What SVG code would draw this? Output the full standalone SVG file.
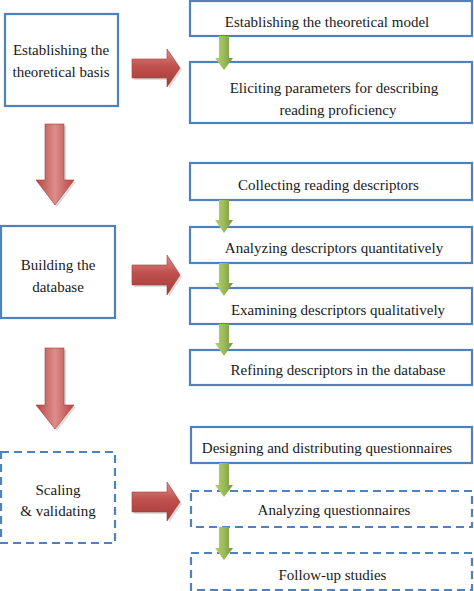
<svg xmlns="http://www.w3.org/2000/svg" width="474" height="591" viewBox="0 0 474 591">
<defs>
<linearGradient id="redH" x1="0" y1="0" x2="0" y2="1">
<stop offset="0" stop-color="#dc8e8b"/>
<stop offset="0.45" stop-color="#c0504d"/>
<stop offset="1" stop-color="#a33c3a"/>
</linearGradient>
<linearGradient id="redV" x1="0" y1="0" x2="1" y2="0">
<stop offset="0" stop-color="#b84542"/>
<stop offset="0.5" stop-color="#dc8e8b"/>
<stop offset="1" stop-color="#b84542"/>
</linearGradient>
<linearGradient id="green" x1="0" y1="0" x2="1" y2="0">
<stop offset="0" stop-color="#b5d06a"/>
<stop offset="0.5" stop-color="#9bbb59"/>
<stop offset="1" stop-color="#76923c"/>
</linearGradient>
<style>
.box{fill:#fff;stroke:#4f81bd;stroke-width:2.2}
.dash{stroke-dasharray:8 5}
text{font-family:"Liberation Serif","Times New Roman",serif;font-size:15px;fill:#1a1a1a;text-anchor:middle}
.red{stroke:#a33c3a;stroke-width:0.6}
.shadow{fill:#b9b9b9;opacity:0.5}
.grn{fill:url(#green)}
</style>
</defs>
<g id="n-basis">
<rect class="box" x="5" y="14" width="113" height="92"/>
<text x="61" y="55">Establishing the</text>
<text x="61" y="77">theoretical basis</text>
</g>
<g id="n-database">
<rect class="box" x="1" y="226" width="114" height="92"/>
<text x="58" y="270">Building the</text>
<text x="58" y="292">database</text>
</g>
<g id="n-scaling">
<rect class="box dash" x="1" y="452" width="114" height="91"/>
<text x="58" y="495">Scaling</text>
<text x="58" y="516">&amp; validating</text>
</g>
<g id="n-model">
<rect class="box" x="190" y="1" width="282" height="35"/>
<text x="327" y="27">Establishing the theoretical model</text>
</g>
<g id="n-eliciting">
<rect class="box" x="190" y="62" width="282" height="61"/>
<text x="334" y="93">Eliciting parameters for describing</text>
<text x="338" y="115">reading proficiency</text>
</g>
<g id="n-collecting">
<rect class="box" x="190" y="163" width="282" height="37"/>
<text x="328.5" y="190">Collecting reading descriptors</text>
</g>
<g id="n-analyzing-desc">
<rect class="box" x="190" y="227" width="282" height="36"/>
<text x="334" y="253">Analyzing descriptors quantitatively</text>
</g>
<g id="n-examining">
<rect class="box" x="190" y="288" width="282" height="36"/>
<text x="338" y="315">Examining descriptors qualitatively</text>
</g>
<g id="n-refining">
<rect class="box" x="190" y="350" width="282" height="35"/>
<text x="338" y="375">Refining descriptors in the database</text>
</g>
<g id="n-designing">
<rect class="box" x="191" y="427" width="281" height="36"/>
<text x="327" y="453">Designing and distributing questionnaires</text>
</g>
<g id="n-analyzing-q">
<rect class="box dash" x="191" y="491" width="281" height="36"/>
<text x="334" y="515">Analyzing questionnaires</text>
</g>
<g id="n-followup">
<rect class="box dash" x="191" y="553" width="281" height="37"/>
<text x="332.5" y="580">Follow-up studies</text>
</g>
<g id="connectors">
<polygon class="shadow" points="134,61 169,61 169,51 182,70 169,89 169,80 134,80"/>
<polygon class="red" fill="url(#redH)" points="132,59 167,59 167,49 180,68 167,87 167,78 132,78"/>
<polygon class="shadow" points="134,267 169,267 169,257 182,277 169,297 169,287 134,287"/>
<polygon class="red" fill="url(#redH)" points="132,265 167,265 167,255 180,275 167,295 167,285 132,285"/>
<polygon class="shadow" points="134,494 169,494 169,484 182,504 169,523 169,514 134,514"/>
<polygon class="red" fill="url(#redH)" points="132,492 167,492 167,482 180,502 167,521 167,512 132,512"/>
<polygon class="shadow" points="47,126 66,126 66,182 76,182 57,207 38,182 47,182"/>
<polygon class="red" fill="url(#redV)" points="45,124 64,124 64,180 74,180 55,205 36,180 45,180"/>
<polygon class="shadow" points="47,350 66,350 66,407 76,407 57,431 38,407 47,407"/>
<polygon class="red" fill="url(#redV)" points="45,348 64,348 64,405 74,405 55,429 36,405 45,405"/>
<polygon class="grn" points="219,36 229,36 229,58 233,58 224,70 215,58 219,58"/>
<polygon class="grn" points="219,200 229,200 229,220 233,220 224,233 215,220 219,220"/>
<polygon class="grn" points="219,263 229,263 229,283 233,283 224,296 215,283 219,283"/>
<polygon class="grn" points="219,324 229,324 229,343 233,343 224,356 215,343 219,343"/>
<polygon class="grn" points="219,463 229,463 229,485 233,485 224,497 215,485 219,485"/>
<polygon class="grn" points="219,527 229,527 229,548 233,548 224,560 215,548 219,548"/>
</g>
</svg>
